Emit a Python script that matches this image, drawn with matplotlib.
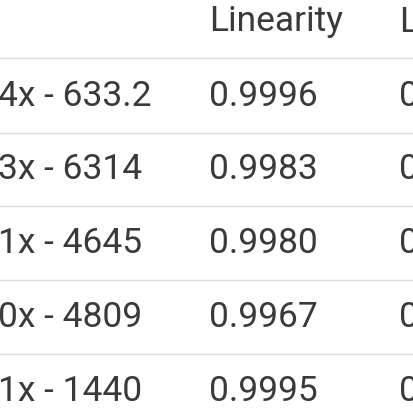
import matplotlib
matplotlib.use("Agg")
import matplotlib.pyplot as plt

headers = ["", "Linearity", "L"]
equations = ["4x - 633.2", "3x - 6314", "1x - 4645", "0x - 4809", "1x - 1440"]
linearity = ["0.9996", "0.9983", "0.9980", "0.9967", "0.9995"]
next_col = ["0", "0", "0", "0", "0"]

fig = plt.figure(figsize=(4.14, 4.14), dpi=100)
ax = fig.add_axes([0, 0, 1, 1])
ax.set_xlim(0, 414)
ax.set_ylim(414, 0)
ax.axis("off")

fs = 25.5
col = "#3a3a3a"
fam = "Roboto"
row_y = [22, 97, 170, 244, 318, 392]
xs = [-2, 209, 399]

ax.text(xs[1], row_y[0], headers[1], fontsize=fs, color=col, family=fam, va="center", ha="left")
ax.text(xs[2], row_y[0], headers[2], fontsize=fs, color=col, family=fam, va="center", ha="left")
for i in range(len(equations)):
    y = row_y[i + 1]
    ax.text(xs[0], y, equations[i], fontsize=fs, color=col, family=fam, va="center", ha="left")
    ax.text(xs[1], y, linearity[i], fontsize=fs, color=col, family=fam, va="center", ha="left")
    ax.text(xs[2], y, next_col[i], fontsize=fs, color=col, family=fam, va="center", ha="left")

for y in [59, 134, 207, 281, 355]:
    ax.axhline(y, color="#dddddd", lw=1)

fig.savefig("out.png", dpi=100)
